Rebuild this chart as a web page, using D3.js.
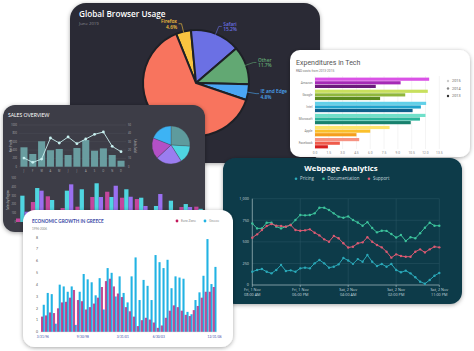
<!DOCTYPE html>
<html><head><meta charset="utf-8">
<script src="https://cdn.jsdelivr.net/npm/d3@7"></script>
<style>body{margin:0;background:#fff;overflow:hidden} svg{display:block}</style>
</head><body>
<svg id="c" width="474" height="351"></svg>
<script>
// ---------- DATA ----------
const browserNames = ["Firefox","Safari","Other","IE and Edge","Chrome"];
const browserShares = [4.6,15.2,11.7,4.8,63.7];
const browserColors = ["#f9c440","#6b70e4","#62a873","#4aa6f4","#f8745e"];

const techCompanies = ["Amazon","Google","Intel","Microsoft","Apple","Facebook"];
const techYears = ["2015","2014","2013"];
const tech2015 = [12.4,12.25,12.07,12.0,8.1,4.8];
const tech2014 = [9.3,9.8,11.5,11.4,6.0,2.7];
const tech2013 = [6.6,7.07,10.6,10.4,4.5,1.4];
const techColors = [["#da52e6","#a52ab6","#6c1b7c"],["#c8e05e","#8fb63c","#5b8a1f"],["#62d0e8","#1fa2cb","#0f608a"],["#70e0ca","#29b59b","#17816d"],["#fde46c","#fbc02c","#f59f1c"],["#f69282","#ef5b4b","#d81f1f"]];
const techTicks = [0,1.5,3,4.5,6,7.5,9,10.5,12,13.5];

const months = ["J","F","M","A","M","J","J","A","S","O","N","D"];
const salesProfit = [465,305,610,395,425,280,448,640,384,440,280,143];
const salesUnits = [10.4,5.2,9.2,34.4,28.4,35.6,27.6,33.2,38.8,41.6,24.4,18.0];
const salesPie = [26,15,22,18,19];
const salesPieColors = ["#5e9b9d","#4fd5e1","#9b7df0","#b350c6","#3db3f4"];
const regionGroups = ["1","2","3","4","5","6","7","8","9","10","11","12","13"];
const regionA = [40,227,292,159,174,284,344,276,261,70,80,170,174];
const regionB = [299,386,250,356,372,440,284,372,276,182,242,204,150];
const regionC = [117,356,80,428,60,284,412,287,182,318,100,170,120];
const regionColors = ["#c4479e","#4fd6e0","#9a6ff0"];

const webSeries = ["Pricing","Documentation","Support"];
const webColors = ["#2aa8b8","#3cc29b","#dc5a72"];
const pricing = [154,174,185,154,135,174,232,162,170,154,193,201,193,251,290,251,201,212,239,313,284,245,300,270,347,270,220,243,212,243,174,147,166,135,89,39,15,58,108,139];
const documentation = [714,656,656,722,722,676,656,676,695,753,811,807,811,830,896,896,869,830,792,780,795,753,724,687,728,660,610,629,627,591,550,579,510,554,541,600,664,722,687,687];
const support = [548,587,637,683,707,687,683,676,695,637,629,633,645,606,575,529,502,568,541,483,434,444,483,494,554,502,463,436,386,317,355,336,328,328,386,413,378,413,444,436];
const webTickHours = [0,10,20,30,39];

const euroZone = [1.3,1.4,1.65,1.6,2.0,2.5,2.55,2.9,3.55,2.7,2.6,1.9,2.1,2.4,2.9,3.8,4.3,4.5,3.85,3.25,2.95,2.1,1.75,1.3,0.5,1.0,1.2,1.05,0.8,0.35,0.55,1.2,1.8,2.25,2.1,1.8,1.45,1.35,1.85,2.2,2.9,3.4,3.4,3.8];
const greece = [2.3,3.3,3.2,0.7,4.0,3.85,3.4,3.85,0.6,3.4,4.9,4.45,4.2,3.1,4.55,1.9,5.4,5.0,3.0,4.7,3.3,2.5,4.7,6.3,2.7,4.4,3.9,2.7,6.5,5.9,5.4,6.1,3.7,4.7,4.6,4.5,1.7,1.5,2.7,3.35,4.75,7.85,4.05,5.5];
const econTickIdx = [0,10,20,29,43];
const econYTicks = [0,1,2,3,4,5,6,7,8];

// ---------- SETUP ----------
const svg = d3.select("#c");
const defs = svg.append("defs");
const f = defs.append("filter").attr("id","sh").attr("x","-10%").attr("y","-10%").attr("width","120%").attr("height","130%");
f.append("feDropShadow").attr("dx",0).attr("dy",1).attr("stdDeviation",2).attr("flood-color","#000").attr("flood-opacity",0.35);
const SANS = "'Open Sans', sans-serif";

function card(x,y,w,h,r,fill){
  const g = svg.append("g");
  g.append("rect").attr("x",x).attr("y",y).attr("width",w).attr("height",h).attr("rx",r).attr("fill",fill).attr("filter","url(#sh)");
  return g;
}
function txt(g,x,y,s,size,fill,opts={}){
  const t = g.append("text").attr("x",x).attr("y",y).text(s).attr("font-size",size).attr("fill",fill)
    .attr("font-family",opts.family||SANS).attr("font-weight",opts.weight||400);
  if(opts.anchor) t.attr("text-anchor",opts.anchor);
  return t;
}

// ---------- CARD A: Global Browser Usage ----------
const gA = card(70,3,250,160,16,"#2a2c34");
txt(gA,79,17,"Global Browser Usage",8.2,"#ffffff",{weight:600});
txt(gA,79,25,"June 2019",4.3,"#8a8c94");
const pieA = d3.pie().sort(null).startAngle(-0.384).endAngle(-0.384+2*Math.PI)(browserShares);
const cxA=196, cyA=83;
const arcA = d3.arc().innerRadius(0).outerRadius(53);
const pA = gA.append("g").attr("transform",`translate(${cxA},${cyA})`);
pA.selectAll("path").data(pieA).join("path").attr("d",arcA)
  .attr("fill",(d,i)=>browserColors[i]).attr("stroke","#1e2026").attr("stroke-width",2);
const arcEdge = d3.arc().innerRadius(53).outerRadius(53);
const arcLab = d3.arc().innerRadius(61).outerRadius(61);
pieA.forEach((d,i)=>{
  if(i===4) return;
  const a=(d.startAngle+d.endAngle)/2;
  const p1 = [Math.sin(a)*52, -Math.cos(a)*52];
  const p2 = [Math.sin(a)*61, -Math.cos(a)*61];
  const right = Math.sin(a)>0;
  const p3 = [p2[0]+(right?3:-3), p2[1]];
  pA.append("polyline").attr("points",[p1,p2,p3].map(p=>p.join(",")).join(" "))
    .attr("fill","none").attr("stroke",browserColors[i]).attr("stroke-width",0.6);
  const tx = p3[0]+(right?1.5:-1.5);
  const anchor = right?"start":"end";
  txt(pA,tx,p2[1]-0.8,browserNames[i],4.8,browserColors[i],{anchor,weight:600});
  txt(pA,tx,p2[1]+5,browserShares[i]+"%",4.8,browserColors[i],{anchor,weight:600});
});

// ---------- CARD B: Expenditures in Tech ----------
const gB = card(290,50,180,107,10,"#ffffff");
txt(gB,296,65,"Expenditures in Tech",7,"#555",{family:"Roboto"});
txt(gB,296,72,"R&D costs from 2013-2015",3.2,"#777",{family:"Roboto"});
const xB = d3.scaleLinear().domain([0,13.5]).range([315,439.3]);
const yB = d3.scaleBand().domain(techCompanies).range([77,149]).paddingInner(0.14).paddingOuter(0.05);
const ySubB = d3.scaleBand().domain(techYears).range([0,yB.bandwidth()]).paddingInner(0.12);
gB.selectAll("line.grid").data(techTicks).join("line").attr("class","grid")
  .attr("x1",d=>xB(d)).attr("x2",d=>xB(d)).attr("y1",76).attr("y2",149).attr("stroke","#e8e8e8").attr("stroke-width",0.5);
gB.selectAll("text.xt").data(techTicks).join("text").attr("class","xt")
  .attr("x",d=>xB(d)).attr("y",153.5).attr("text-anchor","middle").attr("font-size",3.3).attr("fill","#888").attr("font-family","Roboto")
  .text(d=>d3.format(".1f")(d));
const techVals = [tech2015,tech2014,tech2013];
techCompanies.forEach((c,ci)=>{
  techYears.forEach((yr,yi)=>{
    gB.append("rect").attr("x",xB(0)).attr("y",yB(c)+ySubB(yr)).attr("height",ySubB.bandwidth())
      .attr("width",xB(techVals[yi][ci])-xB(0)).attr("fill",techColors[ci][yi]);
  });
  txt(gB,312.5,yB(c)+yB.bandwidth()/2+1,c,3.2,"#777",{anchor:"end",family:"Roboto"});
});
const legColsB = ["#cccccc","#888888","#333333"];
techYears.forEach((yr,i)=>{
  gB.append("circle").attr("cx",448).attr("cy",81+i*7.5).attr("r",1.2).attr("fill",legColsB[i]);
  txt(gB,452,82.4+i*7.5,yr,3.8,"#666",{family:"Roboto"});
});

// ---------- CARD C: Sales Overview ----------
const gC = card(3,105,202,127,12,"#3c3e47");
txt(gC,8,117,"SALES OVERVIEW",5,"#ffffff",{family:"Lato"});
const xC = d3.scaleBand().domain(d3.range(12)).range([20,125]).paddingInner(0.2).paddingOuter(0.05);
const yC = d3.scaleLinear().domain([0,1000]).range([166.7,125]);
const yC2 = d3.scaleLinear().domain([0,50]).range([166.7,125]);
const ticksC = [0,200,400,600,800,1000];
gC.selectAll("line.gc").data(ticksC).join("line").attr("class","gc")
  .attr("x1",19).attr("x2",126).attr("y1",d=>yC(d)).attr("y2",d=>yC(d)).attr("stroke","#52545d").attr("stroke-width",0.4);
gC.selectAll("text.lc").data(ticksC).join("text").attr("class","lc")
  .attr("x",17).attr("y",d=>yC(d)+1).attr("text-anchor","end").attr("font-size",2.6).attr("fill","#aaa").attr("font-family",SANS).text(d=>d);
gC.selectAll("text.rc").data(yC2.ticks(5)).join("text").attr("class","rc")
  .attr("x",128).attr("y",d=>yC2(d)+1).attr("font-size",2.6).attr("fill","#aaa").attr("font-family",SANS).text(d=>d);
txt(gC,0,0,"Net Profit",2.8,"#ccc",{anchor:"middle"}).attr("transform","translate(12,146) rotate(-90)");
txt(gC,0,0,"Units Sold",2.8,"#ccc",{anchor:"middle"}).attr("transform","translate(134,146) rotate(90)");
gC.selectAll("rect.bc").data(salesProfit).join("rect").attr("class","bc")
  .attr("x",(d,i)=>xC(i)).attr("width",xC.bandwidth()).attr("y",d=>yC(d)).attr("height",d=>yC(0)-yC(d)).attr("fill","#6ea7aa").attr("opacity",0.9);
gC.selectAll("text.mc").data(months).join("text").attr("class","mc")
  .attr("x",(d,i)=>xC(i)+xC.bandwidth()/2).attr("y",171.5).attr("text-anchor","middle").attr("font-size",2.6).attr("fill","#aaa").attr("font-family",SANS).text(d=>d);
const lineC = d3.line().x((d,i)=>xC(i)+xC.bandwidth()/2).y(d=>yC2(d));
gC.append("path").attr("d",lineC(salesUnits)).attr("fill","none").attr("stroke","#c9f1f1").attr("stroke-width",0.9);
gC.selectAll("circle.pc").data(salesUnits).join("circle").attr("class","pc")
  .attr("cx",(d,i)=>xC(i)+xC.bandwidth()/2).attr("cy",d=>yC2(d)).attr("r",1.4).attr("fill","#c9f1f1");
const pieC = d3.pie().sort(null)(salesPie);
const arcC = d3.arc().innerRadius(0).outerRadius(19);
gC.append("g").attr("transform","translate(171,145)").selectAll("path").data(pieC).join("path")
  .attr("d",arcC).attr("fill",(d,i)=>salesPieColors[i]).attr("stroke","#3c3e47").attr("stroke-width",0.3);
// region bars
const xR = d3.scaleBand().domain(regionGroups).range([16,207]).paddingInner(0.14);
const xRs = d3.scaleBand().domain([0,1,2]).range([0,xR.bandwidth()]);
const yR = d3.scaleLinear().domain([0,500]).range([222,178]);
gC.selectAll("text.ry").data([0,100,200,300,400,500]).join("text").attr("class","ry")
  .attr("x",16).attr("y",d=>yR(d)+1).attr("text-anchor","end").attr("font-size",2.6).attr("fill","#aaa").attr("font-family",SANS).text(d=>d);
txt(gC,0,0,"Sales by Region",2.8,"#ccc",{anchor:"middle"}).attr("transform","translate(9,200) rotate(-90)");
const regionVals = [regionA,regionB,regionC];
regionGroups.forEach((grp,gi)=>{
  regionVals.forEach((arr,si)=>{
    gC.append("rect").attr("x",xR(grp)+xRs(si)).attr("width",xRs.bandwidth()).attr("y",yR(arr[gi])).attr("height",yR(0)-yR(arr[gi])).attr("fill",regionColors[si]);
  });
});

// ---------- CARD D: Webpage Analytics ----------
const gD = card(223,158,239,146,12,"#0d3a49");
txt(gD,341,171,"Webpage Analytics",7.8,"#ffffff",{anchor:"middle",weight:700});
const legX = [296,323.5,369];
webSeries.forEach((s,i)=>{
  gD.append("circle").attr("cx",legX[i]).attr("cy",178.7).attr("r",1.3).attr("fill",webColors[i]);
  txt(gD,legX[i]+4,180.3,s,4.4,"#c9dadf");
});
const t0 = new Date(2019,10,1,8);
const times = pricing.map((d,i)=>d3.timeHour.offset(t0,i));
const xD = d3.scaleTime().domain([times[0],times[times.length-1]]).range([252.3,439.3]);
const yD = d3.scaleLinear().domain([0,1000]).range([285,198.7]);
const tickTimes = webTickHours.map(h=>d3.timeHour.offset(t0,h));
gD.selectAll("line.gy").data([250,500,750,1000]).join("line").attr("class","gy")
  .attr("x1",252.3).attr("x2",439.3).attr("y1",d=>yD(d)).attr("y2",d=>yD(d)).attr("stroke","#2c5866").attr("stroke-width",0.5);
gD.selectAll("line.gx").data(tickTimes.slice(1)).join("line").attr("class","gx")
  .attr("x1",d=>xD(d)).attr("x2",d=>xD(d)).attr("y1",198.7).attr("y2",285).attr("stroke","#2c5866").attr("stroke-width",0.5);
gD.append("line").attr("x1",252.3).attr("x2",252.3).attr("y1",198.7).attr("y2",285).attr("stroke","#c8d8dc").attr("stroke-width",0.6);
gD.append("line").attr("x1",252.3).attr("x2",439.3).attr("y1",285).attr("y2",285).attr("stroke","#c8d8dc").attr("stroke-width",0.6);
gD.selectAll("text.yl").data([0,250,500,750,1000]).join("text").attr("class","yl")
  .attr("x",249).attr("y",d=>yD(d)+1.3).attr("text-anchor","end").attr("font-size",3.8).attr("fill","#c9dadf").attr("font-family",SANS).text(d=>d3.format(",")(d));
const f1 = d3.timeFormat("%a, %-d %b"), f2 = d3.timeFormat("%I:%M %p");
tickTimes.forEach(t=>{
  txt(gD,xD(t),290.5,f1(t),3.8,"#c9dadf",{anchor:"middle"});
  txt(gD,xD(t),295.5,f2(t),3.8,"#c9dadf",{anchor:"middle"});
  gD.append("line").attr("x1",xD(t)).attr("x2",xD(t)).attr("y1",285).attr("y2",287).attr("stroke","#c8d8dc").attr("stroke-width",0.5);
});
const lineD = d3.line().x((d,i)=>xD(times[i])).y(d=>yD(d));
[pricing,documentation,support].forEach((arr,si)=>{
  gD.append("path").attr("d",lineD(arr)).attr("fill","none").attr("stroke",webColors[si]).attr("stroke-width",1);
  gD.append("g").selectAll("circle").data(arr).join("circle")
    .attr("cx",(d,i)=>xD(times[i])).attr("cy",d=>yD(d)).attr("r",1.2).attr("fill",webColors[si]);
});

// ---------- CARD E: Economic Growth in Greece ----------
const gE = card(23,210,210,137,12,"#ffffff");
txt(gE,32,223,"ECONOMIC GROWTH IN GREECE",4.6,"#3b49a6",{family:"Lato",weight:700});
txt(gE,32,230,"1996-2006",3,"#888",{family:"Lato"});
gE.append("circle").attr("cx",177).attr("cy",221).attr("r",1.4).attr("fill","#c2185b");
txt(gE,181,222.3,"Euro Zone",3.3,"#888",{family:"Lato"});
gE.append("circle").attr("cx",205).attr("cy",221).attr("r",1.4).attr("fill","#22b3e3");
txt(gE,209,222.3,"Greece",3.3,"#888",{family:"Lato"});
const quarters = greece.map((d,i)=>{const y=1996+Math.floor(i/4), q=i%4; const m=[3,6,9,12][q], dd=[31,30,30,31][q]; return `${m}/${dd}/${String(y).slice(2)}`;});
const xE = d3.scaleBand().domain(quarters).range([41,216.5]).paddingInner(0.05);
const yE = d3.scaleLinear().domain([0,8]).range([332,237.3]);
gE.selectAll("text.ey").data(econYTicks).join("text").attr("class","ey")
  .attr("x",38).attr("y",d=>yE(d)+1.2).attr("text-anchor","end").attr("font-size",3.5).attr("fill","#555").attr("font-family","Lato").text(d=>d);
const bw = xE.bandwidth();
gE.selectAll("rect.gr").data(greece).join("rect").attr("class","gr")
  .attr("x",(d,i)=>xE(quarters[i])+bw*0.45).attr("width",bw*0.55).attr("y",d=>yE(d)).attr("height",d=>yE(0)-yE(d)).attr("fill","#22b3e3");
gE.selectAll("rect.eu").data(euroZone).join("rect").attr("class","eu")
  .attr("x",(d,i)=>xE(quarters[i])).attr("width",bw*0.55).attr("y",d=>yE(d)).attr("height",d=>yE(0)-yE(d)).attr("fill","#b0207a").attr("opacity",0.8);
gE.append("line").attr("x1",40).attr("x2",217).attr("y1",332).attr("y2",332).attr("stroke","#ddd").attr("stroke-width",0.4);
econTickIdx.forEach(i=>{
  txt(gE,xE(quarters[i])+bw/2,337.5,quarters[i],3.2,"#3b49a6",{anchor:"middle",family:"Lato"});
});
</script>
</body></html>
